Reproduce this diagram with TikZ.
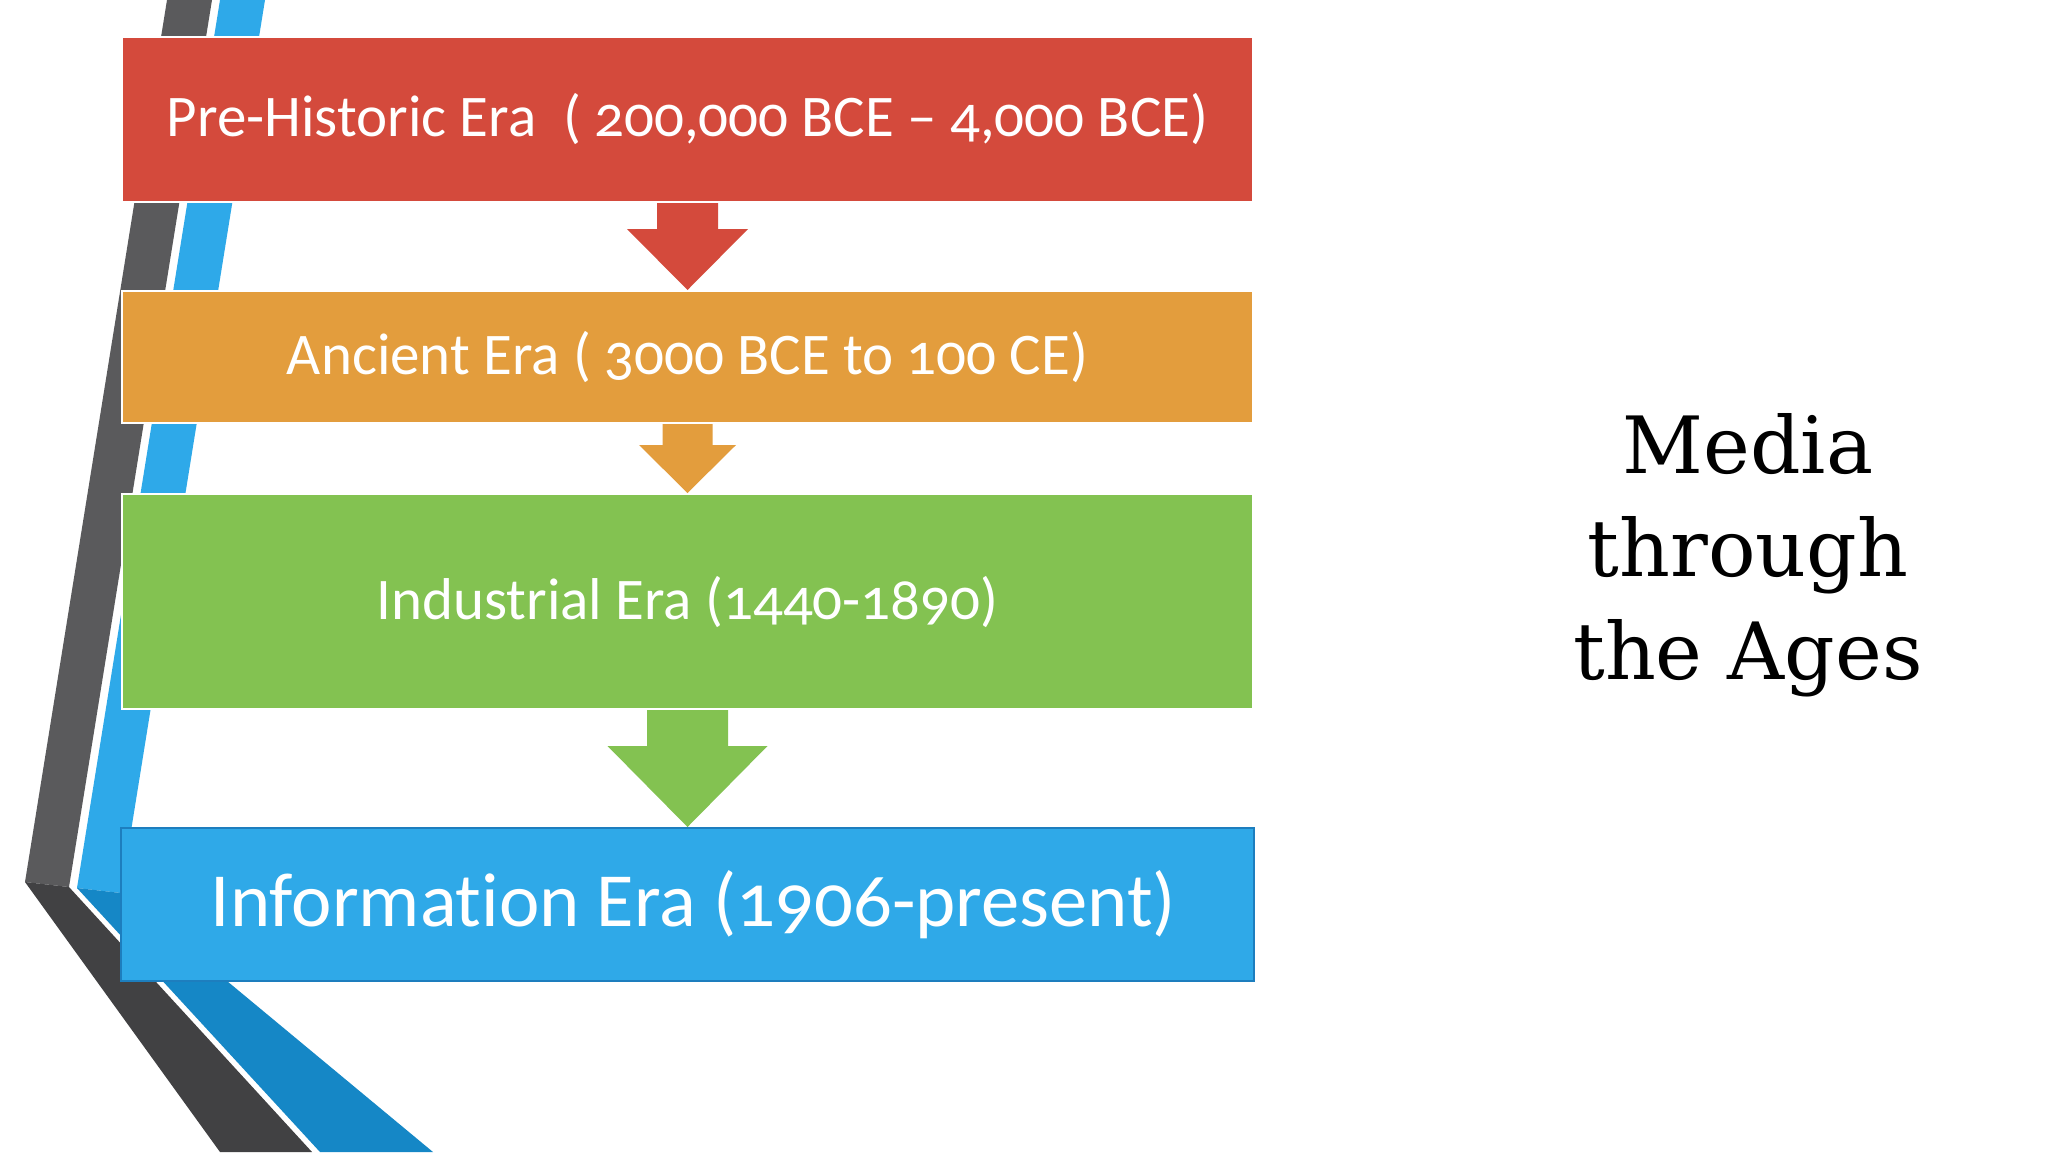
\documentclass[tikz,border=0pt]{standalone}
\usepackage{fontspec}
\setmainfont{DejaVu Serif}
\newfontfamily\boxfont[Numbers=OldStyle,Ligatures=NoCommon]{Carlito}
\usetikzlibrary{calc}
\definecolor{eraRed}{HTML}{D44A3C}
\definecolor{eraOrange}{HTML}{E39D3D}
\definecolor{eraGreen}{HTML}{83C251}
\definecolor{eraBlue}{HTML}{2FA9E8}
\definecolor{eraBlueEdge}{HTML}{1D7EBE}
\definecolor{stripeGrey}{HTML}{5A5A5C}
\definecolor{stripeDark}{HTML}{414143}
\definecolor{stripeBlue}{HTML}{2EA9E9}
\definecolor{stripeBlueDark}{HTML}{1587C6}
\newcommand\eraarrow[6]{%
  \fill[#1] ($(#2.south)+(-#4,0)$) -- ($(#2.south)+(#4,0)$) -- ($(#3.north)+(#4,-#6)$)
    -- ($(#3.north)+(#5,-#6)$) -- (#3.north) -- ($(#3.north)+(-#5,-#6)$)
    -- ($(#3.north)+(-#4,-#6)$) -- cycle;}
\begin{document}
\begin{tikzpicture}[x=0.5pt,y=-0.5pt,
  erabox/.style={draw=white, line width=1pt, text=white, inner sep=0pt,
    font=\boxfont\fontsize{29.5}{34}\selectfont},
  title/.style={align=center, font=\fontsize{39.5}{51.5}\selectfont, text=black}]
\useasboundingbox[fill=white] (0,0) rectangle (2048,1152);
% decorative stripes
\fill[stripeGrey] (167,0) -- (212,0) -- (69,887) -- (25,882) -- cycle;
\fill[stripeDark] (25,882) -- (69,887) -- (312,1152) -- (220,1152) -- cycle;
\fill[stripeBlue] (220,0) -- (265,0) -- (121,893) -- (77,888) -- cycle;
\fill[stripeBlueDark] (77,888) -- (121,893) -- (433,1152) -- (320,1152) -- cycle;
% era boxes
\node[erabox, fill=eraRed, minimum width=565.5pt, minimum height=82.5pt] (pre) at (687.5,119.5)
  {Pre-Historic Era\ \ ( 200,000 BCE – 4,000 BCE)};
\node[erabox, fill=eraOrange, minimum width=565.5pt, minimum height=66pt] (anc) at (687.5,357)
  {Ancient Era ( 3000 BCE to 100 CE)};
\node[erabox, fill=eraGreen, minimum width=565.5pt, minimum height=107.5pt] (ind) at (687.5,601.5)
  {Industrial Era (1440-1890)};
\node[erabox, fill=eraBlue, draw=eraBlueEdge, minimum width=566.5pt, minimum height=76.5pt,
  font=\boxfont\fontsize{38.3}{44}\selectfont] (inf) at (687.5,904.5)
  {\hspace*{6pt}Information Era (1906-present)};
% arrows
\eraarrow{eraRed}{pre}{anc}{30.5}{60.5}{61}
\eraarrow{eraOrange}{anc}{ind}{25}{48.5}{48}
\eraarrow{eraGreen}{ind}{inf}{40.5}{80}{81}
% title
\node[title] (ttl) at (1748,555) {Media\\through\\the Ages};
\end{tikzpicture}
\end{document}
